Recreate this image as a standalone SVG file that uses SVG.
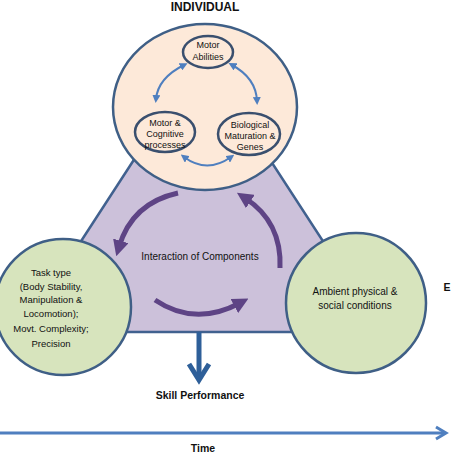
<svg xmlns="http://www.w3.org/2000/svg" width="455" height="455" viewBox="0 0 455 455">
<defs>
<style>
text{font-family:"Liberation Sans",Arial,sans-serif;fill:#111;text-anchor:middle}
.b{font-weight:bold}
.big{stroke:#3f5f86;stroke-width:2.5}
.small{fill:none;stroke:#3a4f6e;stroke-width:2.5}
.blue{fill:none;stroke:#4f7fbf;stroke-width:2}
.purp{fill:none;stroke:#5e4485;stroke-width:5}
</style>
<marker id="ab" viewBox="0 0 10 10" refX="5" refY="5" markerWidth="4" markerHeight="4" orient="auto-start-reverse" markerUnits="strokeWidth"><path d="M0,0L10,5L0,10z" fill="#4f7fbf"/></marker>
<marker id="ap" viewBox="0 0 10 10" refX="4" refY="5" markerWidth="3.2" markerHeight="3.2" orient="auto" markerUnits="strokeWidth"><path d="M0,0L10,5L0,10z" fill="#5e4485"/></marker>
</defs>
<rect width="455" height="455" fill="#fff"/>
<g id="triangle"><polygon points="202,55 22,332 382,332" fill="#ccc1da" stroke="#41618f" stroke-width="2.5"/></g>
<g id="individual">
<ellipse cx="205" cy="107" rx="92" ry="83" fill="#fde9d9" class="big"/>
</g>
<g id="motor-abilities"><ellipse cx="208" cy="52" rx="25" ry="16" fill="#fde9d9" class="small"/><text x="208" y="48" font-size="9">Motor</text><text x="208" y="60" font-size="9">Abilities</text></g>
<g id="motor-cognitive"><ellipse cx="165" cy="132" rx="30" ry="20" fill="#fde9d9" class="small"/><text x="165" y="126" font-size="9">Motor &amp;</text><text x="165" y="137" font-size="9">Cognitive</text><text x="165" y="148" font-size="9">processes</text></g>
<g id="biological"><ellipse cx="249" cy="134" rx="31" ry="21" fill="#fde9d9" class="small"/><text x="250" y="128" font-size="9">Biological</text><text x="250" y="139" font-size="9">Maturation &amp;</text><text x="250" y="150" font-size="9">Genes</text></g>
<g id="task"><circle cx="63" cy="307" r="68" fill="#d7e4bd" class="big"/>
<text x="51" y="276" font-size="9.5">Task type</text><text x="51" y="290" font-size="9.5">(Body Stability,</text><text x="51" y="303" font-size="9.5">Manipulation &amp;</text><text x="51" y="317" font-size="9.5">Locomotion);</text><text x="51" y="332" font-size="9.5">Movt. Complexity;</text><text x="51" y="347" font-size="9.5">Precision</text></g>
<g id="ambient"><circle cx="356" cy="303" r="70" fill="#d7e4bd" class="big"/><text x="355" y="295" font-size="10">Ambient physical &amp;</text><text x="355" y="309" font-size="10">social conditions</text></g>
<g id="connectors">
<path class="blue" d="M184,65 Q158,78 156,99" marker-start="url(#ab)" marker-end="url(#ab)"/>
<path class="blue" d="M232,65 Q256,78 257,101" marker-start="url(#ab)" marker-end="url(#ab)"/>
<path class="blue" d="M184,157 Q207,174 231,157" marker-start="url(#ab)" marker-end="url(#ab)"/>
<path class="purp" d="M178,193 Q132,203 119,247" marker-end="url(#ap)"/>
<path class="purp" d="M280,268 Q282,222 245,198" marker-end="url(#ap)"/>
<path class="purp" d="M155,300 Q195,327 240,303" marker-end="url(#ap)"/>
<line x1="199" y1="332" x2="199" y2="379" stroke="#2e5f99" stroke-width="5"/>
<polyline points="189,364 199,380 209,364" fill="none" stroke="#2e5f99" stroke-width="5" stroke-linejoin="miter"/>
<line x1="0" y1="433" x2="444" y2="433" stroke="#4f7fbf" stroke-width="3"/>
<polyline points="436,427 446,433 436,439" fill="none" stroke="#4f7fbf" stroke-width="3"/>
</g>
<text class="b" x="205" y="11" font-size="12">INDIVIDUAL</text>
<text x="200" y="260" font-size="10">Interaction of Components</text>
<text class="b" x="200" y="399" font-size="10.5">Skill Performance</text>
<text class="b" x="203" y="452" font-size="10.5">Time</text>
<text class="b" x="447" y="291" font-size="10.5">E</text>
</svg>
